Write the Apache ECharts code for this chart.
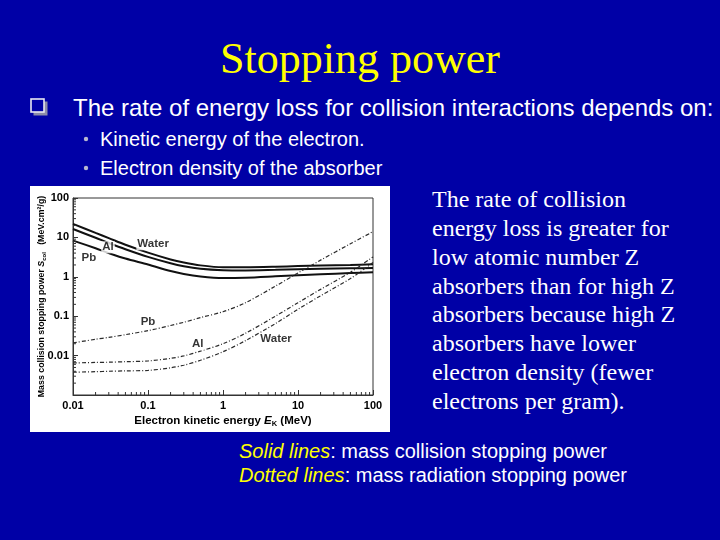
<!DOCTYPE html>
<html>
<head>
<meta charset="utf-8">
<script src="https://cdn.jsdelivr.net/npm/echarts@6/dist/echarts.min.js"></script>
<style>
  html, body { margin: 0; padding: 0; }
  body { width: 720px; height: 540px; background: #0000a6; position: relative; overflow: hidden; }
  #slide { position: absolute; left: 0; top: 0; }
  #chart { position: absolute; left: 30px; top: 186px; width: 360px; height: 246px; background: #fff; }
</style>
</head>
<body>
<svg id="slide" width="720" height="540" xmlns="http://www.w3.org/2000/svg">
  <text x="360" y="73" text-anchor="middle" font-family="Liberation Serif, Times New Roman, serif" font-size="44" fill="#ffff00">Stopping power</text>
  <!-- square bullet with shadow -->
  <rect x="33.5" y="101.5" width="14" height="14" fill="#8c8ca8"/>
  <rect x="31" y="99" width="13" height="13" fill="#0000a6" stroke="#e8e8f0" stroke-width="1.6"/>
  <text x="73" y="116" font-family="Liberation Sans, Arial, sans-serif" font-size="24" fill="#fff">The rate of energy loss for collision interactions depends on:</text>
  <circle cx="86" cy="139" r="2.2" fill="#b8b8d0"/>
  <circle cx="86" cy="168" r="2.2" fill="#b8b8d0"/>
  <text x="100" y="146" font-family="Liberation Sans, Arial, sans-serif" font-size="20" fill="#fff">Kinetic energy of the electron.</text>
  <text x="100" y="175" font-family="Liberation Sans, Arial, sans-serif" font-size="20" fill="#fff">Electron density of the absorber</text>
  <g font-family="Liberation Serif, Times New Roman, serif" font-size="24" fill="#fff">
    <text x="432" y="207">The rate of collision</text>
    <text x="432" y="236">energy loss is greater for</text>
    <text x="432" y="265">low atomic number Z</text>
    <text x="432" y="294">absorbers than for high Z</text>
    <text x="432" y="322">absorbers because high Z</text>
    <text x="432" y="351">absorbers have lower</text>
    <text x="432" y="380">electron density (fewer</text>
    <text x="432" y="409">electrons per gram).</text>
  </g>
  <g font-family="Liberation Sans, Arial, sans-serif" font-size="20" fill="#fff">
    <text x="239" y="458"><tspan font-style="italic" fill="#ffff00">Solid lines</tspan>: mass collision stopping power</text>
    <text x="239" y="482"><tspan font-style="italic" fill="#ffff00">Dotted lines</tspan>: mass radiation stopping power</text>
  </g>
</svg>
<div id="chart"></div>
<script>
// electron kinetic energy (MeV)
const energy = [0.01, 0.02, 0.03, 0.05, 0.1, 0.2, 0.3, 0.5, 1, 2, 5, 10, 20, 50, 100];

// mass collision stopping power (MeV cm2/g) - solid lines
const colWater = [22, 13, 9.6, 6.5, 4.1, 2.75, 2.3, 1.95, 1.75, 1.75, 1.8, 1.87, 1.93, 2.0, 2.07];
const colAl    = [16.3, 9.8, 7.2, 5.0, 3.2, 2.2, 1.85, 1.6, 1.47, 1.45, 1.5, 1.55, 1.59, 1.64, 1.67];
const colPb    = [8.3, 5.3, 4.0, 2.9, 2.05, 1.4, 1.18, 1.02, 0.93, 0.95, 1.03, 1.1, 1.16, 1.24, 1.3];

// mass radiation stopping power (MeV cm2/g) - dotted lines
const radPb    = [0.021, 0.026, 0.029, 0.034, 0.043, 0.058, 0.07, 0.092, 0.13, 0.22, 0.58, 1.25, 2.65, 6.9, 14];
const radAl    = [0.0065, 0.0067, 0.0068, 0.007, 0.0073, 0.0085, 0.0098, 0.013, 0.02, 0.037, 0.1, 0.22, 0.48, 1.3, 3.2];
const radWater = [0.0038, 0.0039, 0.004, 0.0041, 0.0042, 0.0049, 0.0057, 0.0076, 0.0125, 0.024, 0.065, 0.15, 0.33, 0.9, 2.3];

// curve labels: [energy, stopping power, text]
const curveLabels = [
  [0.117, 6.7, 'Water'], [0.0293, 5.6, 'Al'], [0.0163, 3.1, 'Pb'],
  [0.1, 0.07, 'Pb'], [0.46, 0.0194, 'Al'], [5.1, 0.026, 'Water']
];

// axis decades and log minor tick multipliers
const xDecades = [0.01, 0.1, 1, 10];
const yDecades = [0.001, 0.01, 0.1, 1, 10];
const minorMult = [2, 3, 4, 5, 6, 7, 8, 9];

const pairs = vals => energy.map((e, i) => [e, vals[i]]);
const xMinor = [], yMinor = [];
xDecades.forEach(d => minorMult.forEach(m => xMinor.push([+(d * m).toPrecision(3), 0.001])));
yDecades.forEach(d => minorMult.forEach(m => yMinor.push([0.01, +(d * m).toPrecision(3)])));

const solid = { color: '#111', width: 2 };
const dotted = { color: '#2a2a2a', width: 1.2, type: [4, 2, 1, 2] };
const lineSeries = (name, vals, style) => ({
  name, type: 'line', data: pairs(vals), smooth: 0.3, showSymbol: false,
  lineStyle: style, itemStyle: { color: style.color }, z: 3
});

const tickSeries = (data, dir) => ({
  type: 'custom', data, silent: true, z: 4,
  renderItem: (params, api) => {
    const p = api.coord([api.value(0), api.value(1)]);
    const len = 3;
    const shape = dir === 'x'
      ? { x1: p[0], y1: p[1], x2: p[0], y2: p[1] - len }
      : { x1: p[0], y1: p[1], x2: p[0] + len, y2: p[1] };
    return { type: 'line', shape, style: { stroke: '#333', lineWidth: 1 } };
  }
});

const chart = echarts.init(document.getElementById('chart'));
chart.setOption({
  animation: false,
  backgroundColor: '#fff',
  textStyle: { fontFamily: 'Liberation Sans, Arial, sans-serif' },
  grid: {
    left: 43, top: 12, width: 300, height: 197, outerBoundsMode: 'none', containLabel: false,
    show: true, borderColor: '#333', borderWidth: 1
  },
  xAxis: {
    type: 'log', logBase: 10, min: 0.01, max: 100,
    name: '{b|Electron kinetic energy }{i|E}{s|K}{b| (MeV)}',
    nameLocation: 'middle', nameGap: 19, nameMoveOverlap: false,
    nameTextStyle: {
      rich: {
        b: { fontSize: 11.5, fontWeight: 'bold', color: '#000', lineHeight: 14 },
        i: { fontSize: 11.5, fontWeight: 'bold', fontStyle: 'italic', color: '#000', lineHeight: 14 },
        s: { fontSize: 7.5, fontWeight: 'bold', color: '#000', lineHeight: 8, verticalAlign: 'bottom' }
      }
    },
    axisLine: { lineStyle: { color: '#333', width: 1 } },
    axisTick: { inside: true, length: 5, lineStyle: { color: '#333' } },
    axisLabel: { color: '#000', fontSize: 11, fontWeight: 'bold', margin: 5, formatter: v => String(+v.toPrecision(3)) },
    splitLine: { show: false }
  },
  yAxis: {
    type: 'log', logBase: 10, min: 0.001, max: 100,
    name: '{b|Mass collision stopping power }{i|S}{s|col}{b|   (MeV.cm²/g)}',
    nameLocation: 'middle', nameGap: 26, nameRotate: 90, nameMoveOverlap: false,
    nameTextStyle: {
      rich: {
        b: { fontSize: 8.8, fontWeight: 'bold', color: '#000', lineHeight: 11 },
        i: { fontSize: 8.8, fontWeight: 'bold', fontStyle: 'italic', color: '#000', lineHeight: 11 },
        s: { fontSize: 6, fontWeight: 'bold', color: '#000', lineHeight: 6, verticalAlign: 'bottom' }
      }
    },
    axisLine: { show: true, lineStyle: { color: '#333', width: 1 } },
    axisTick: { inside: true, length: 5, lineStyle: { color: '#333' } },
    axisLabel: {
      color: '#000', fontSize: 11, fontWeight: 'bold', margin: 4,
      formatter: v => (Math.abs(v - 0.001) < 1e-9 ? '' : String(+v.toPrecision(3)))
    },
    splitLine: { show: false }
  },
  series: [
    lineSeries('Water collision', colWater, solid),
    lineSeries('Al collision', colAl, solid),
    lineSeries('Pb collision', colPb, solid),
    lineSeries('Pb radiation', radPb, dotted),
    lineSeries('Al radiation', radAl, dotted),
    lineSeries('Water radiation', radWater, dotted),
    tickSeries(xMinor, 'x'),
    tickSeries(yMinor, 'y'),
    {
      type: 'scatter', data: curveLabels, symbolSize: 1, silent: true, z: 5,
      itemStyle: { color: 'rgba(0,0,0,0)' },
      label: {
        show: true, position: 'inside', formatter: p => p.data[2],
        color: '#000', fontSize: 11.5, fontWeight: 'bold',
        backgroundColor: '#fff', padding: [0, 1]
      }
    }
  ]
});
</script>
</body>
</html>
